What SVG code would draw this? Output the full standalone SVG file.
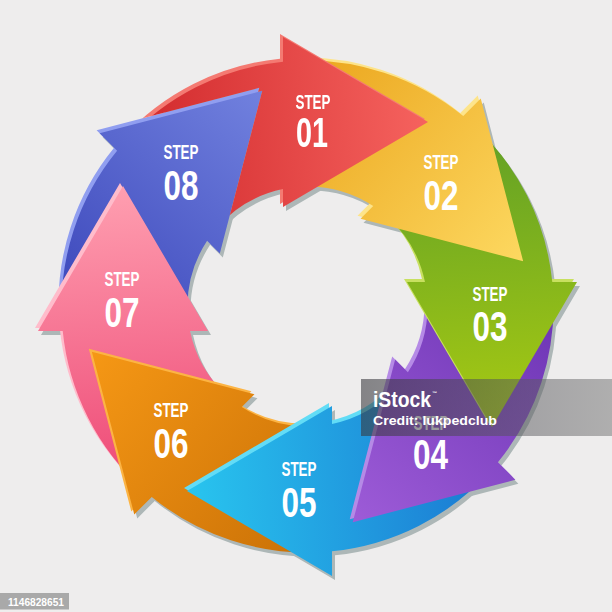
<svg xmlns="http://www.w3.org/2000/svg" width="612" height="612" viewBox="0 0 612 612">
<defs>
<style>
.s{font-family:"Liberation Sans",Arial,sans-serif;font-weight:700;font-size:21px;fill:#fff;text-anchor:middle}
.n{font-family:"Liberation Sans",Arial,sans-serif;font-weight:700;font-size:42.5px;fill:#fff;text-anchor:middle}
.wm{font-family:"Liberation Sans",Arial,sans-serif;font-weight:700;fill:#fff}
</style>
<path id="arrow" d="M -182.81 -164.61 A 246 246 0 0 1 -24.5 -244.78 L -24.5 -269.5 L 120.5 -184.5 L -24.5 -99.5 L -24.5 -117.47 A 120 120 0 0 0 -89.18 -80.3 Z"/>
<path id="head" d="M -24.5 -269.5 L 120.5 -184.5 L -24.5 -99.5 Z"/>
<linearGradient id="g1" gradientUnits="userSpaceOnUse" x1="-190" y1="-160" x2="125" y2="-185"><stop offset="0" stop-color="#cf2629"/><stop offset="1" stop-color="#f6635f"/></linearGradient>
<linearGradient id="g2" gradientUnits="userSpaceOnUse" x1="-190" y1="-160" x2="125" y2="-185"><stop offset="0" stop-color="#eaa31a"/><stop offset="1" stop-color="#fdd961"/></linearGradient>
<linearGradient id="g3" gradientUnits="userSpaceOnUse" x1="-190" y1="-160" x2="125" y2="-185"><stop offset="0" stop-color="#5e9e27"/><stop offset="1" stop-color="#a9cb12"/></linearGradient>
<linearGradient id="g4" gradientUnits="userSpaceOnUse" x1="-190" y1="-160" x2="125" y2="-185"><stop offset="0" stop-color="#6a33b3"/><stop offset="1" stop-color="#9e5cd8"/></linearGradient>
<linearGradient id="g5" gradientUnits="userSpaceOnUse" x1="-190" y1="-160" x2="125" y2="-185"><stop offset="0" stop-color="#1a76d1"/><stop offset="1" stop-color="#29c6ef"/></linearGradient>
<linearGradient id="g6" gradientUnits="userSpaceOnUse" x1="-190" y1="-160" x2="125" y2="-185"><stop offset="0" stop-color="#c86f06"/><stop offset="1" stop-color="#f69815"/></linearGradient>
<linearGradient id="g7" gradientUnits="userSpaceOnUse" x1="-190" y1="-160" x2="125" y2="-185"><stop offset="0" stop-color="#ed4573"/><stop offset="1" stop-color="#ffa0b1"/></linearGradient>
<linearGradient id="g8" gradientUnits="userSpaceOnUse" x1="-190" y1="-160" x2="125" y2="-185"><stop offset="0" stop-color="#3944b9"/><stop offset="1" stop-color="#7282df"/></linearGradient>
<linearGradient id="wmg" x1="0" y1="0" x2="1" y2="0"><stop offset="0" stop-color="#37373c" stop-opacity="0.58"/><stop offset="0.6" stop-color="#55555a" stop-opacity="0.5"/><stop offset="1" stop-color="#707070" stop-opacity="0.5"/></linearGradient>
<mask id="m01" maskUnits="userSpaceOnUse" x="0" y="0" width="612" height="612">
<rect width="612" height="612" fill="#fff"/>
<use href="#head" fill="#000" transform="translate(307.5 306.5) rotate(315)"/>
<use href="#head" fill="#000" transform="translate(304.5 303.5) rotate(315)"/>
</mask>
</defs>
<rect width="612" height="612" fill="#eeeded"/>
<g id="shadows" fill="#adb7b7">
<use href="#arrow" transform="translate(310.5 310.5) rotate(0)"/>
<use href="#arrow" transform="translate(310.5 310.5) rotate(45)"/>
<use href="#arrow" transform="translate(310.5 310.5) rotate(90)"/>
<use href="#arrow" transform="translate(310.5 310.5) rotate(135)"/>
<use href="#arrow" transform="translate(310.5 310.5) rotate(180)"/>
<use href="#arrow" transform="translate(310.5 310.5) rotate(225)"/>
<use href="#arrow" transform="translate(310.5 310.5) rotate(270)"/>
<use href="#arrow" transform="translate(310.5 310.5) rotate(315)"/>
</g>
<g id="step08">
<use href="#arrow" fill="#909ef0" transform="translate(304.5 303.5) rotate(315)"/>
<use href="#arrow" fill="url(#g8)" transform="translate(307.5 306.5) rotate(315)"/>
<text class="s" x="181" y="158.5" textLength="35" lengthAdjust="spacingAndGlyphs">STEP</text>
<text class="n" x="181" y="199.5" textLength="35" lengthAdjust="spacingAndGlyphs">08</text>
</g>
<g id="step07">
<use href="#arrow" fill="#ffbccb" transform="translate(304.5 303.5) rotate(270)"/>
<use href="#arrow" fill="url(#g7)" transform="translate(307.5 306.5) rotate(270)"/>
<text class="s" x="122" y="286" textLength="35" lengthAdjust="spacingAndGlyphs">STEP</text>
<text class="n" x="122" y="326.5" textLength="35" lengthAdjust="spacingAndGlyphs">07</text>
</g>
<g id="step06">
<use href="#arrow" fill="#fcb444" transform="translate(304.5 303.5) rotate(225)"/>
<use href="#arrow" fill="url(#g6)" transform="translate(307.5 306.5) rotate(225)"/>
<text class="s" x="171" y="417" textLength="35" lengthAdjust="spacingAndGlyphs">STEP</text>
<text class="n" x="171" y="458" textLength="35" lengthAdjust="spacingAndGlyphs">06</text>
</g>
<g id="step05">
<use href="#arrow" fill="#62dcf6" transform="translate(304.5 303.5) rotate(180)"/>
<use href="#arrow" fill="url(#g5)" transform="translate(307.5 306.5) rotate(180)"/>
<text class="s" x="299" y="476" textLength="35" lengthAdjust="spacingAndGlyphs">STEP</text>
<text class="n" x="299" y="516.5" textLength="35" lengthAdjust="spacingAndGlyphs">05</text>
</g>
<g id="step04">
<use href="#arrow" fill="#b58ae6" transform="translate(304.5 303.5) rotate(135)"/>
<use href="#arrow" fill="url(#g4)" transform="translate(307.5 306.5) rotate(135)"/>
<text class="s" x="431" y="430" textLength="35" lengthAdjust="spacingAndGlyphs">STEP</text>
<text class="n" x="430.5" y="469" textLength="35" lengthAdjust="spacingAndGlyphs">04</text>
</g>
<g id="step03">
<use href="#arrow" fill="#c8e060" transform="translate(304.5 303.5) rotate(90)"/>
<use href="#arrow" fill="url(#g3)" transform="translate(307.5 306.5) rotate(90)"/>
<text class="s" x="490" y="300.5" textLength="35" lengthAdjust="spacingAndGlyphs">STEP</text>
<text class="n" x="490" y="340.5" textLength="35" lengthAdjust="spacingAndGlyphs">03</text>
</g>
<g id="step02">
<use href="#arrow" fill="#fde48a" transform="translate(304.5 303.5) rotate(45)"/>
<use href="#arrow" fill="url(#g2)" transform="translate(307.5 306.5) rotate(45)"/>
<text class="s" x="441" y="168.5" textLength="35" lengthAdjust="spacingAndGlyphs">STEP</text>
<text class="n" x="441" y="209.5" textLength="35" lengthAdjust="spacingAndGlyphs">02</text>
</g>
<g id="step01" mask="url(#m01)">
<use href="#arrow" fill="#f47a72" transform="translate(304.5 303.5) rotate(0)"/>
<use href="#arrow" fill="url(#g1)" transform="translate(307.5 306.5) rotate(0)"/>
<text class="s" x="313" y="108.5" textLength="35" lengthAdjust="spacingAndGlyphs">STEP</text>
<text class="n" x="312" y="147" textLength="32" lengthAdjust="spacingAndGlyphs">01</text>
</g>
<g id="watermark">
<rect x="361" y="379" width="251" height="57" fill="url(#wmg)"/>
<text class="wm" x="373" y="406.5" font-size="22" textLength="58" lengthAdjust="spacingAndGlyphs">iStock</text>
<text class="wm" x="432" y="395" font-size="5">™</text>
<text class="wm" x="373" y="425" font-size="13.5" textLength="124" lengthAdjust="spacingAndGlyphs">Credit: lukpedclub</text>
</g>
<g id="imageid">
<rect x="0" y="593" width="69" height="16.5" fill="#a9a9a9"/>
<text class="wm" x="8" y="605.7" font-size="11.5" font-weight="400" textLength="56" lengthAdjust="spacingAndGlyphs">1146828651</text>
</g>
</svg>
